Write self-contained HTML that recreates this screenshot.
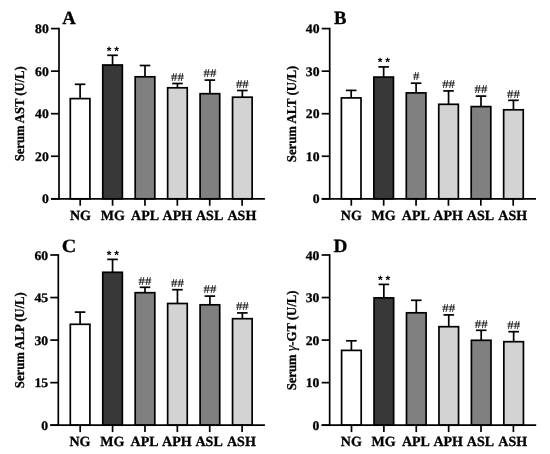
<!DOCTYPE html><html><head><meta charset="utf-8"><title>Figure</title><style>
html,body{margin:0;padding:0;background:#fff}
svg{display:block}
.s{stroke:#000;stroke-width:1.7;stroke-linecap:butt}
text{font-family:"Liberation Serif",serif;fill:#000;text-rendering:geometricPrecision;stroke:#000;stroke-width:0.3px;stroke-linejoin:round}
.xl{font-size:14px;font-weight:bold}
.yl{font-size:13.1px;font-weight:bold}
.ti{font-size:13.5px;font-weight:bold}
.pl{font-size:18.7px;font-weight:bold}
.gm{font-weight:normal;font-style:italic;font-size:14.5px}
.sg{font-size:12px;stroke-width:0.1px}
.st{font-family:"Liberation Sans",sans-serif;font-weight:bold;font-size:12px;letter-spacing:2.8px;stroke:none}
</style></head><body>
<svg width="550" height="454" viewBox="0 0 550 454">
<rect width="550" height="454" fill="#fff"/>
<g transform="translate(0,0)">
<line x1="80.10" y1="98.6" x2="80.10" y2="84.3" class="s"/>
<line x1="74.80" y1="84.3" x2="85.40" y2="84.3" class="s"/>
<rect x="70.30" y="98.6" width="19.6" height="100.20" fill="#ffffff" class="s"/>
<line x1="80.20" y1="198.8" x2="80.20" y2="205.7" class="s"/>
<text x="80.50" y="219.6" class="xl" text-anchor="middle">NG</text>
<line x1="112.55" y1="65" x2="112.55" y2="55.3" class="s"/>
<line x1="107.25" y1="55.3" x2="117.85" y2="55.3" class="s"/>
<rect x="102.75" y="65" width="19.6" height="133.80" fill="#383838" class="s"/>
<text x="114.15" y="54.80" class="st" text-anchor="middle">**</text>
<line x1="112.58" y1="198.8" x2="112.58" y2="205.7" class="s"/>
<text x="112.78" y="219.6" class="xl" text-anchor="middle">MG</text>
<line x1="145.00" y1="76.8" x2="145.00" y2="65.5" class="s"/>
<line x1="139.70" y1="65.5" x2="150.30" y2="65.5" class="s"/>
<rect x="135.20" y="76.8" width="19.6" height="122.00" fill="#808080" class="s"/>
<line x1="144.96" y1="198.8" x2="144.96" y2="205.7" class="s"/>
<text x="145.06" y="219.6" class="xl" text-anchor="middle">APL</text>
<line x1="177.45" y1="87.8" x2="177.45" y2="83.5" class="s"/>
<line x1="172.15" y1="83.5" x2="182.75" y2="83.5" class="s"/>
<rect x="167.65" y="87.8" width="19.6" height="111.00" fill="#d3d3d3" class="s"/>
<text transform="translate(177.45,80.70) scale(1.07,1)" class="sg" text-anchor="middle">##</text>
<line x1="177.34" y1="198.8" x2="177.34" y2="205.7" class="s"/>
<text x="177.34" y="219.6" class="xl" text-anchor="middle">APH</text>
<line x1="209.90" y1="93.7" x2="209.90" y2="80.1" class="s"/>
<line x1="204.60" y1="80.1" x2="215.20" y2="80.1" class="s"/>
<rect x="200.10" y="93.7" width="19.6" height="105.10" fill="#808080" class="s"/>
<text transform="translate(209.90,77.30) scale(1.07,1)" class="sg" text-anchor="middle">##</text>
<line x1="209.72" y1="198.8" x2="209.72" y2="205.7" class="s"/>
<text x="209.62" y="219.6" class="xl" text-anchor="middle">ASL</text>
<line x1="242.35" y1="97.2" x2="242.35" y2="90.5" class="s"/>
<line x1="237.05" y1="90.5" x2="247.65" y2="90.5" class="s"/>
<rect x="232.55" y="97.2" width="19.6" height="101.60" fill="#d3d3d3" class="s"/>
<text transform="translate(242.35,87.70) scale(1.07,1)" class="sg" text-anchor="middle">##</text>
<line x1="242.10" y1="198.8" x2="242.10" y2="205.7" class="s"/>
<text x="241.90" y="219.6" class="xl" text-anchor="middle">ASH</text>
</g>
<g transform="translate(0,0)">
<line x1="59.0" y1="27.75" x2="59.0" y2="199.65" class="s"/>
<line x1="51.0" y1="198.8" x2="264.90" y2="198.8" class="s"/>
<line x1="51.0" y1="198.80" x2="59.0" y2="198.80" class="s"/>
<text transform="translate(48.8,203.30) scale(1.045,1)" class="yl" text-anchor="end">0</text>
<line x1="51.0" y1="156.25" x2="59.0" y2="156.25" class="s"/>
<text transform="translate(48.8,160.75) scale(1.045,1)" class="yl" text-anchor="end">20</text>
<line x1="51.0" y1="113.70" x2="59.0" y2="113.70" class="s"/>
<text transform="translate(48.8,118.20) scale(1.045,1)" class="yl" text-anchor="end">40</text>
<line x1="51.0" y1="71.15" x2="59.0" y2="71.15" class="s"/>
<text transform="translate(48.8,75.65) scale(1.045,1)" class="yl" text-anchor="end">60</text>
<line x1="51.0" y1="28.60" x2="59.0" y2="28.60" class="s"/>
<text transform="translate(48.8,33.10) scale(1.045,1)" class="yl" text-anchor="end">80</text>
<text transform="translate(24.35,113.80) rotate(-90) scale(0.934,1)" class="ti" text-anchor="middle">Serum AST (U/L)</text>
<text transform="translate(62.30,24.0) scale(1.0,1)" class="pl">A</text>
</g>
<g transform="translate(271.1,0)">
<line x1="80.10" y1="97.9" x2="80.10" y2="90.4" class="s"/>
<line x1="74.80" y1="90.4" x2="85.40" y2="90.4" class="s"/>
<rect x="70.30" y="97.9" width="19.6" height="100.90" fill="#ffffff" class="s"/>
<line x1="80.20" y1="198.8" x2="80.20" y2="205.7" class="s"/>
<text x="80.22" y="219.6" class="xl" text-anchor="middle">NG</text>
<line x1="112.55" y1="77.1" x2="112.55" y2="66.9" class="s"/>
<line x1="107.25" y1="66.9" x2="117.85" y2="66.9" class="s"/>
<rect x="102.75" y="77.1" width="19.6" height="121.70" fill="#383838" class="s"/>
<text x="114.15" y="66.40" class="st" text-anchor="middle">**</text>
<line x1="112.58" y1="198.8" x2="112.58" y2="205.7" class="s"/>
<text x="112.50" y="219.6" class="xl" text-anchor="middle">MG</text>
<line x1="145.00" y1="92.9" x2="145.00" y2="83.2" class="s"/>
<line x1="139.70" y1="83.2" x2="150.30" y2="83.2" class="s"/>
<rect x="135.20" y="92.9" width="19.6" height="105.90" fill="#808080" class="s"/>
<text transform="translate(145.00,80.40) scale(1.07,1)" class="sg" text-anchor="middle">#</text>
<line x1="144.96" y1="198.8" x2="144.96" y2="205.7" class="s"/>
<text x="144.78" y="219.6" class="xl" text-anchor="middle">APL</text>
<line x1="177.45" y1="104.3" x2="177.45" y2="90.9" class="s"/>
<line x1="172.15" y1="90.9" x2="182.75" y2="90.9" class="s"/>
<rect x="167.65" y="104.3" width="19.6" height="94.50" fill="#d3d3d3" class="s"/>
<text transform="translate(177.45,88.10) scale(1.07,1)" class="sg" text-anchor="middle">##</text>
<line x1="177.34" y1="198.8" x2="177.34" y2="205.7" class="s"/>
<text x="177.06" y="219.6" class="xl" text-anchor="middle">APH</text>
<line x1="209.90" y1="106.6" x2="209.90" y2="96.1" class="s"/>
<line x1="204.60" y1="96.1" x2="215.20" y2="96.1" class="s"/>
<rect x="200.10" y="106.6" width="19.6" height="92.20" fill="#808080" class="s"/>
<text transform="translate(209.90,93.30) scale(1.07,1)" class="sg" text-anchor="middle">##</text>
<line x1="209.72" y1="198.8" x2="209.72" y2="205.7" class="s"/>
<text x="209.34" y="219.6" class="xl" text-anchor="middle">ASL</text>
<line x1="242.35" y1="109.8" x2="242.35" y2="100.3" class="s"/>
<line x1="237.05" y1="100.3" x2="247.65" y2="100.3" class="s"/>
<rect x="232.55" y="109.8" width="19.6" height="89.00" fill="#d3d3d3" class="s"/>
<text transform="translate(242.35,97.50) scale(1.07,1)" class="sg" text-anchor="middle">##</text>
<line x1="242.10" y1="198.8" x2="242.10" y2="205.7" class="s"/>
<text x="241.62" y="219.6" class="xl" text-anchor="middle">ASH</text>
</g>
<g transform="translate(270.7,0)">
<line x1="59.0" y1="27.75" x2="59.0" y2="199.65" class="s"/>
<line x1="51.0" y1="198.8" x2="265.30" y2="198.8" class="s"/>
<line x1="51.0" y1="198.80" x2="59.0" y2="198.80" class="s"/>
<text transform="translate(48.8,203.30) scale(1.045,1)" class="yl" text-anchor="end">0</text>
<line x1="51.0" y1="156.25" x2="59.0" y2="156.25" class="s"/>
<text transform="translate(48.8,160.75) scale(1.045,1)" class="yl" text-anchor="end">10</text>
<line x1="51.0" y1="113.70" x2="59.0" y2="113.70" class="s"/>
<text transform="translate(48.8,118.20) scale(1.045,1)" class="yl" text-anchor="end">20</text>
<line x1="51.0" y1="71.15" x2="59.0" y2="71.15" class="s"/>
<text transform="translate(48.8,75.65) scale(1.045,1)" class="yl" text-anchor="end">30</text>
<line x1="51.0" y1="28.60" x2="59.0" y2="28.60" class="s"/>
<text transform="translate(48.8,33.10) scale(1.045,1)" class="yl" text-anchor="end">40</text>
<text transform="translate(25.15,113.95) rotate(-90) scale(0.945,1)" class="ti" text-anchor="middle">Serum ALT (U/L)</text>
<text transform="translate(63.40,24.0) scale(1.0,1)" class="pl">B</text>
</g>
<g transform="translate(0,226.4)">
<line x1="80.10" y1="97.9" x2="80.10" y2="85.7" class="s"/>
<line x1="74.80" y1="85.7" x2="85.40" y2="85.7" class="s"/>
<rect x="70.30" y="97.9" width="19.6" height="100.90" fill="#ffffff" class="s"/>
<line x1="80.20" y1="198.8" x2="80.20" y2="205.7" class="s"/>
<text x="80.01" y="219.6" class="xl" text-anchor="middle">NG</text>
<line x1="112.55" y1="45.9" x2="112.55" y2="33" class="s"/>
<line x1="107.25" y1="33" x2="117.85" y2="33" class="s"/>
<rect x="102.75" y="45.9" width="19.6" height="152.90" fill="#383838" class="s"/>
<text x="114.15" y="32.50" class="st" text-anchor="middle">**</text>
<line x1="112.58" y1="198.8" x2="112.58" y2="205.7" class="s"/>
<text x="112.29" y="219.6" class="xl" text-anchor="middle">MG</text>
<line x1="145.00" y1="66.3" x2="145.00" y2="60.9" class="s"/>
<line x1="139.70" y1="60.9" x2="150.30" y2="60.9" class="s"/>
<rect x="135.20" y="66.3" width="19.6" height="132.50" fill="#808080" class="s"/>
<text transform="translate(145.00,58.10) scale(1.07,1)" class="sg" text-anchor="middle">##</text>
<line x1="144.96" y1="198.8" x2="144.96" y2="205.7" class="s"/>
<text x="144.57" y="219.6" class="xl" text-anchor="middle">APL</text>
<line x1="177.45" y1="77.1" x2="177.45" y2="63.3" class="s"/>
<line x1="172.15" y1="63.3" x2="182.75" y2="63.3" class="s"/>
<rect x="167.65" y="77.1" width="19.6" height="121.70" fill="#d3d3d3" class="s"/>
<text transform="translate(177.45,60.50) scale(1.07,1)" class="sg" text-anchor="middle">##</text>
<line x1="177.34" y1="198.8" x2="177.34" y2="205.7" class="s"/>
<text x="176.85" y="219.6" class="xl" text-anchor="middle">APH</text>
<line x1="209.90" y1="78.4" x2="209.90" y2="69.7" class="s"/>
<line x1="204.60" y1="69.7" x2="215.20" y2="69.7" class="s"/>
<rect x="200.10" y="78.4" width="19.6" height="120.40" fill="#808080" class="s"/>
<text transform="translate(209.90,66.90) scale(1.07,1)" class="sg" text-anchor="middle">##</text>
<line x1="209.72" y1="198.8" x2="209.72" y2="205.7" class="s"/>
<text x="209.13" y="219.6" class="xl" text-anchor="middle">ASL</text>
<line x1="242.35" y1="92.3" x2="242.35" y2="86.5" class="s"/>
<line x1="237.05" y1="86.5" x2="247.65" y2="86.5" class="s"/>
<rect x="232.55" y="92.3" width="19.6" height="106.50" fill="#d3d3d3" class="s"/>
<text transform="translate(242.35,83.70) scale(1.07,1)" class="sg" text-anchor="middle">##</text>
<line x1="242.10" y1="198.8" x2="242.10" y2="205.7" class="s"/>
<text x="241.41" y="219.6" class="xl" text-anchor="middle">ASH</text>
</g>
<g transform="translate(-0.7,226.4)">
<line x1="59.0" y1="27.75" x2="59.0" y2="199.65" class="s"/>
<line x1="51.0" y1="198.8" x2="265.60" y2="198.8" class="s"/>
<line x1="51.0" y1="198.80" x2="59.0" y2="198.80" class="s"/>
<text transform="translate(48.8,203.30) scale(1.045,1)" class="yl" text-anchor="end">0</text>
<line x1="51.0" y1="156.25" x2="59.0" y2="156.25" class="s"/>
<text transform="translate(48.8,160.75) scale(1.045,1)" class="yl" text-anchor="end">15</text>
<line x1="51.0" y1="113.70" x2="59.0" y2="113.70" class="s"/>
<text transform="translate(48.8,118.20) scale(1.045,1)" class="yl" text-anchor="end">30</text>
<line x1="51.0" y1="71.15" x2="59.0" y2="71.15" class="s"/>
<text transform="translate(48.8,75.65) scale(1.045,1)" class="yl" text-anchor="end">45</text>
<line x1="51.0" y1="28.60" x2="59.0" y2="28.60" class="s"/>
<text transform="translate(48.8,33.10) scale(1.045,1)" class="yl" text-anchor="end">60</text>
<text transform="translate(24.9,113.80) rotate(-90) scale(0.94,1)" class="ti" text-anchor="middle">Serum ALP (U/L)</text>
<text transform="translate(62.40,25.5) scale(1.08,1)" class="pl">C</text>
</g>
<g transform="translate(271.3,226.4)">
<line x1="80.10" y1="124" x2="80.10" y2="114.4" class="s"/>
<line x1="74.80" y1="114.4" x2="85.40" y2="114.4" class="s"/>
<rect x="70.30" y="124" width="19.6" height="74.80" fill="#ffffff" class="s"/>
<line x1="80.20" y1="198.8" x2="80.20" y2="205.7" class="s"/>
<text x="80.04" y="219.6" class="xl" text-anchor="middle">NG</text>
<line x1="112.55" y1="71.5" x2="112.55" y2="58" class="s"/>
<line x1="107.25" y1="58" x2="117.85" y2="58" class="s"/>
<rect x="102.75" y="71.5" width="19.6" height="127.30" fill="#383838" class="s"/>
<text x="114.15" y="57.50" class="st" text-anchor="middle">**</text>
<line x1="112.58" y1="198.8" x2="112.58" y2="205.7" class="s"/>
<text x="112.32" y="219.6" class="xl" text-anchor="middle">MG</text>
<line x1="145.00" y1="86.4" x2="145.00" y2="73.9" class="s"/>
<line x1="139.70" y1="73.9" x2="150.30" y2="73.9" class="s"/>
<rect x="135.20" y="86.4" width="19.6" height="112.40" fill="#808080" class="s"/>
<line x1="144.96" y1="198.8" x2="144.96" y2="205.7" class="s"/>
<text x="144.61" y="219.6" class="xl" text-anchor="middle">APL</text>
<line x1="177.45" y1="100.3" x2="177.45" y2="88.5" class="s"/>
<line x1="172.15" y1="88.5" x2="182.75" y2="88.5" class="s"/>
<rect x="167.65" y="100.3" width="19.6" height="98.50" fill="#d3d3d3" class="s"/>
<text transform="translate(177.45,85.70) scale(1.07,1)" class="sg" text-anchor="middle">##</text>
<line x1="177.34" y1="198.8" x2="177.34" y2="205.7" class="s"/>
<text x="176.89" y="219.6" class="xl" text-anchor="middle">APH</text>
<line x1="209.90" y1="113.9" x2="209.90" y2="103.9" class="s"/>
<line x1="204.60" y1="103.9" x2="215.20" y2="103.9" class="s"/>
<rect x="200.10" y="113.9" width="19.6" height="84.90" fill="#808080" class="s"/>
<text transform="translate(209.90,101.10) scale(1.07,1)" class="sg" text-anchor="middle">##</text>
<line x1="209.72" y1="198.8" x2="209.72" y2="205.7" class="s"/>
<text x="209.17" y="219.6" class="xl" text-anchor="middle">ASL</text>
<line x1="242.35" y1="115.3" x2="242.35" y2="105.3" class="s"/>
<line x1="237.05" y1="105.3" x2="247.65" y2="105.3" class="s"/>
<rect x="232.55" y="115.3" width="19.6" height="83.50" fill="#d3d3d3" class="s"/>
<text transform="translate(242.35,102.50) scale(1.07,1)" class="sg" text-anchor="middle">##</text>
<line x1="242.10" y1="198.8" x2="242.10" y2="205.7" class="s"/>
<text x="241.45" y="219.6" class="xl" text-anchor="middle">ASH</text>
</g>
<g transform="translate(270.65,226.4)">
<line x1="59.0" y1="27.75" x2="59.0" y2="199.65" class="s"/>
<line x1="51.0" y1="198.8" x2="265.55" y2="198.8" class="s"/>
<line x1="51.0" y1="198.80" x2="59.0" y2="198.80" class="s"/>
<text transform="translate(48.8,203.30) scale(1.045,1)" class="yl" text-anchor="end">0</text>
<line x1="51.0" y1="156.25" x2="59.0" y2="156.25" class="s"/>
<text transform="translate(48.8,160.75) scale(1.045,1)" class="yl" text-anchor="end">10</text>
<line x1="51.0" y1="113.70" x2="59.0" y2="113.70" class="s"/>
<text transform="translate(48.8,118.20) scale(1.045,1)" class="yl" text-anchor="end">20</text>
<line x1="51.0" y1="71.15" x2="59.0" y2="71.15" class="s"/>
<text transform="translate(48.8,75.65) scale(1.045,1)" class="yl" text-anchor="end">30</text>
<line x1="51.0" y1="28.60" x2="59.0" y2="28.60" class="s"/>
<text transform="translate(48.8,33.10) scale(1.045,1)" class="yl" text-anchor="end">40</text>
<text transform="translate(25.05,114.00) rotate(-90) scale(0.943,1)" class="ti" text-anchor="middle">Serum <tspan class="gm">γ</tspan>-GT (U/L)</text>
<text transform="translate(62.95,25.1) scale(1.03,1)" class="pl">D</text>
</g>
</svg></body></html>
